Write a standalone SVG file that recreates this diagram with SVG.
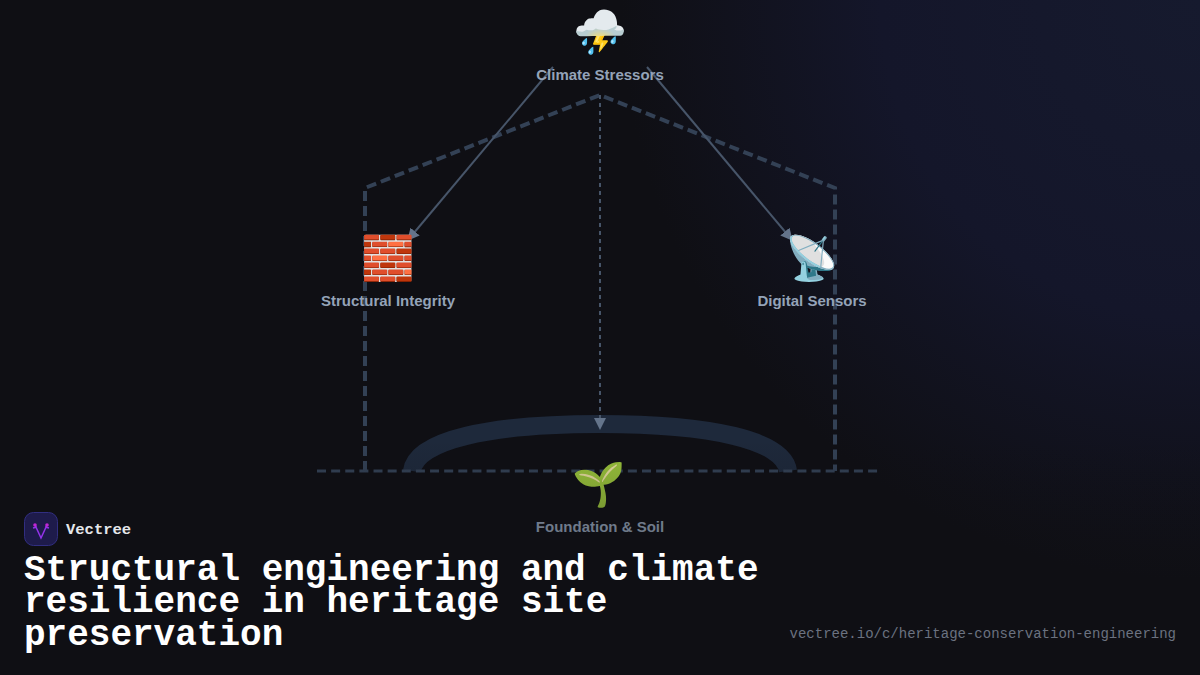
<svg xmlns="http://www.w3.org/2000/svg" width="1200" height="675" viewBox="0 0 1200 675">
<style>
.lbl{font:700 15px "Liberation Sans",Arial,sans-serif;fill:#94a3b8;text-anchor:middle}
.emo{font:43px "Noto Color Emoji","Noto Sans",sans-serif;text-anchor:middle}
.wall{fill:none;stroke:#334155;stroke-width:4;stroke-dasharray:10 5}
.ground{fill:none;stroke:#334155;stroke-width:3;stroke-dasharray:9 5.13}
.flow{fill:none;stroke:#475569;stroke-width:2}
.title{font:700 36px "Liberation Mono",monospace;fill:#fff}
</style>
<defs>
<radialGradient id="glow" gradientUnits="userSpaceOnUse" cx="1200" cy="0" r="580"><stop offset="0" stop-color="#161a2e"/><stop offset="0.55" stop-color="#14162a"/><stop offset="1" stop-color="#0f0f14"/></radialGradient>
<linearGradient id="fade" x1="0" y1="0" x2="0" y2="1"><stop offset="0" stop-color="#0f0f14" stop-opacity="0"/><stop offset="1" stop-color="#0f0f14" stop-opacity="0.75"/></linearGradient>
<marker id="arr" markerWidth="12" markerHeight="12" refX="11" refY="6" orient="auto" markerUnits="userSpaceOnUse"><path d="M0 0L12 6L0 12Z" fill="#64748b"/></marker>
</defs>
<rect width="1200" height="675" fill="#0f0f14"/>
<rect width="1200" height="675" fill="url(#glow)"/>
<g id="connectors">
<path d="M412 471C416 440 490 424 600 424C710 424 784 440 788 471" fill="none" stroke="#1e293b" stroke-width="18"/>
<path class="wall" d="M365 471V188L600 95L835 188V471"/>
<path class="ground" d="M317 471H878"/>
<path class="flow" d="M553 67L408 240" marker-end="url(#arr)"/>
<path class="flow" d="M647 67L792 240" marker-end="url(#arr)"/>
<path class="flow" d="M600 95V429" stroke-dasharray="4 4" stroke="#64748b" marker-end="url(#arr)"/>
</g>
<g id="climate"><text class="emo" x="600" y="47">⛈️</text><text class="lbl" x="600" y="80">Climate Stressors</text></g>
<g id="structural"><text class="emo" x="388" y="273">🧱</text><text class="lbl" x="388" y="306">Structural Integrity</text></g>
<g id="sensors"><text class="emo" x="812" y="273">📡</text><text class="lbl" x="812" y="306">Digital Sensors</text></g>
<g id="foundation"><text class="emo" x="599" y="499">🌱</text><text class="lbl" x="600" y="532">Foundation &amp; Soil</text></g>
<rect y="440" width="1200" height="235" fill="url(#fade)"/>
<g id="brand">
<rect x="24.5" y="512.5" width="33" height="33" rx="9" fill="#1e1b4b" stroke="#312e81"/>
<path d="M35 525L41 538L47 525M33 528L37 527M49 528L45 527" fill="none" stroke="#9333ea" stroke-width="1.5"/>
<circle cx="35" cy="525" r="1.8" fill="#c026d3"/><circle cx="47" cy="525" r="1.8" fill="#c026d3"/>
<text x="66" y="534" font-family="Liberation Mono,monospace" font-weight="700" font-size="15.5" fill="#e5e7eb">Vectree</text>
</g>
<text class="title" x="24" y="580">Structural engineering and climate</text>
<text class="title" x="24" y="612">resilience in heritage site</text>
<text class="title" x="24" y="645">preservation</text>
<text x="1176" y="638" text-anchor="end" font-family="Liberation Mono,monospace" font-size="14" fill="#6b7280">vectree.io/c/heritage-conservation-engineering</text>
</svg>
